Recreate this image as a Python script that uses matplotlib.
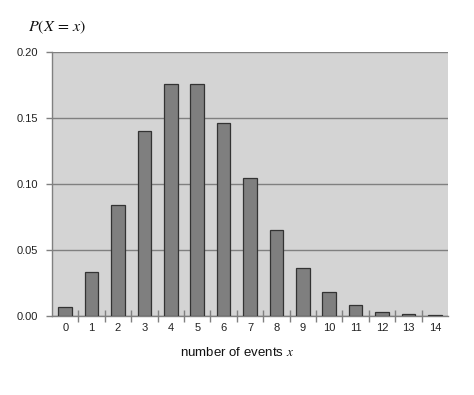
import matplotlib
matplotlib.use("Agg")
import matplotlib.pyplot as plt

events = list(range(15))
tick_labels = [str(k) for k in events]
probs = [0.0067, 0.0337, 0.0842, 0.1404, 0.1755, 0.1755, 0.1462, 0.1044,
         0.0653, 0.0363, 0.0181, 0.0082, 0.0034, 0.0013, 0.0005]
y_ticks = [0.00, 0.05, 0.10, 0.15, 0.20]

plt.rcParams['mathtext.fontset'] = 'stix'
plt.rcParams['font.family'] = ['Liberation Sans', 'DejaVu Sans']

fig = plt.figure(figsize=(4.74, 3.95), dpi=100)
ax = fig.add_axes([52/474, 1 - 316/395, 396/474, 264/395])
ax.set_facecolor('#d4d4d4')
ax.bar(events, probs, width=0.52, color='#7f7f7f', edgecolor='#333333', linewidth=0.9, zorder=3)
ax.set_xlim(-0.5, 14.5)
ax.set_ylim(0, 0.20)
ax.set_yticks(y_ticks)
ax.set_yticklabels([f"{v:.2f}" for v in y_ticks], fontsize=8, color='#222222')
ax.yaxis.grid(True, color='#808080', linewidth=1.0, zorder=1)
ax.tick_params(axis='y', length=4, color='#808080', width=1.0, pad=6)
ax.set_xticks(events)
ax.set_xticklabels(tick_labels, fontsize=8, color='#222222')
ax.set_xticks([k + 0.5 for k in events[:-1]], minor=True)
ax.tick_params(axis='x', which='major', length=0, pad=5)
ax.tick_params(axis='x', which='minor', direction='inout', length=9, color='#808080', width=1.0)
for s in ['top', 'right']:
    ax.spines[s].set_visible(False)
ax.spines['left'].set_color('#808080')
ax.spines['bottom'].set_color('#808080')
ax.spines['left'].set_linewidth(1.0)
ax.spines['bottom'].set_linewidth(1.0)

fig.text(28/474, 1 - 27/395, r'$P(X\,=\,x)$', fontsize=11.5, va='center', ha='left', color='#111111')
fig.text(237/474, 1 - 352/395, r'number of events $x$', fontsize=9.5, va='center', ha='center', color='#111111')

fig.savefig('out.png', dpi=100)
